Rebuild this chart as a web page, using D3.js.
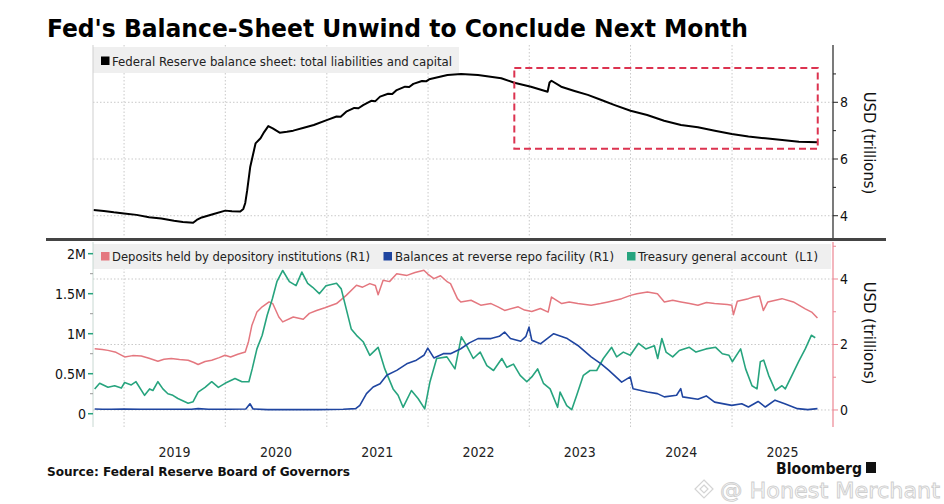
<!DOCTYPE html>
<html><head><meta charset="utf-8">
<script src="https://cdn.jsdelivr.net/npm/d3@7"></script>
<style>
html,body{margin:0;padding:0;background:#fff;}
svg{display:block;}
text{font-family:"DejaVu Sans Condensed","DejaVu Sans",sans-serif;}
</style></head><body>
<svg id="chart" width="944" height="504"></svg>
<script>
// ---------- DATA ----------
const bsDates = ["2018-09-13","2018-10-20","2018-11-25","2019-01-01","2019-02-15","2019-04-01","2019-05-15","2019-06-30","2019-08-01","2019-09-07","2019-09-20","2019-10-08","2019-11-20","2020-01-01","2020-01-25","2020-02-24","2020-03-06","2020-03-13","2020-03-20","2020-03-31","2020-04-19","2020-05-07","2020-05-20","2020-06-04","2020-06-20","2020-07-15","2020-08-10","2020-09-02","2020-10-10","2020-11-15","2021-01-03","2021-02-05","2021-02-20","2021-03-12","2021-04-10","2021-04-25","2021-05-12","2021-06-10","2021-06-25","2021-07-12","2021-08-10","2021-08-25","2021-09-10","2021-10-10","2021-10-25","2021-11-09","2021-12-10","2021-12-25","2022-01-05","2022-03-12","2022-04-30","2022-06-30","2022-09-22","2022-11-08","2023-01-07","2023-03-08","2023-03-15","2023-03-22","2023-04-26","2023-06-13","2023-07-31","2023-09-18","2023-11-05","2024-01-01","2024-03-01","2024-05-01","2024-07-01","2024-08-31","2024-10-31","2024-12-31","2025-03-01","2025-05-01","2025-07-01","2025-08-30","2025-11-05"];
const bsValues = [4.20,4.17,4.12,4.08,4.03,3.95,3.90,3.82,3.78,3.75,3.85,3.94,4.06,4.18,4.16,4.15,4.24,4.45,4.90,5.73,6.55,6.73,6.95,7.16,7.08,6.93,6.96,7.00,7.10,7.20,7.38,7.50,7.49,7.67,7.80,7.79,7.90,8.05,8.04,8.20,8.30,8.29,8.43,8.55,8.54,8.65,8.75,8.74,8.81,8.96,9.00,8.96,8.85,8.69,8.55,8.37,8.70,8.76,8.55,8.40,8.26,8.08,7.90,7.70,7.55,7.35,7.20,7.12,7.00,6.88,6.79,6.73,6.67,6.61,6.59];

const depDates = ["2018-09-17","2018-10-15","2018-11-04","2018-12-03","2019-01-03","2019-02-01","2019-03-04","2019-04-01","2019-05-03","2019-05-25","2019-06-20","2019-07-20","2019-08-20","2019-09-10","2019-09-25","2019-10-20","2019-11-13","2019-12-10","2019-12-31","2020-01-20","2020-02-15","2020-03-13","2020-03-25","2020-04-06","2020-04-24","2020-05-13","2020-06-07","2020-06-20","2020-07-12","2020-07-26","2020-09-02","2020-10-08","2020-10-30","2020-11-25","2020-12-25","2021-02-05","2021-03-12","2021-04-18","2021-05-10","2021-06-05","2021-06-25","2021-07-05","2021-07-23","2021-08-15","2021-09-10","2021-10-17","2021-11-15","2021-12-17","2021-12-31","2022-01-22","2022-02-15","2022-03-12","2022-03-23","2022-04-17","2022-04-29","2022-06-05","2022-07-10","2022-08-16","2022-09-10","2022-10-04","2022-11-22","2022-12-15","2023-01-10","2023-02-10","2023-03-10","2023-03-22","2023-04-28","2023-05-25","2023-06-25","2023-08-12","2023-09-15","2023-10-12","2023-11-30","2024-01-01","2024-01-24","2024-03-02","2024-04-07","2024-05-02","2024-06-01","2024-07-01","2024-08-01","2024-08-31","2024-10-01","2024-10-30","2024-12-15","2024-12-31","2025-01-06","2025-01-20","2025-03-01","2025-03-20","2025-04-10","2025-04-24","2025-05-10","2025-06-30","2025-08-10","2025-09-22","2025-10-15","2025-11-05"];
const depValues = [1.87,1.85,1.82,1.76,1.62,1.66,1.65,1.58,1.49,1.55,1.57,1.54,1.52,1.45,1.39,1.48,1.52,1.60,1.67,1.62,1.70,1.77,2.10,2.59,2.99,3.15,3.30,3.25,2.84,2.69,2.84,2.77,2.95,3.04,3.12,3.25,3.50,3.81,3.75,3.86,3.80,3.52,3.96,3.92,4.16,4.11,4.20,4.27,4.15,4.01,4.10,3.91,3.86,3.40,3.30,3.35,3.20,3.25,3.15,3.04,3.15,3.05,3.01,3.10,2.99,3.45,3.25,3.30,3.25,3.20,3.25,3.30,3.40,3.50,3.55,3.60,3.55,3.30,3.35,3.30,3.25,3.20,3.28,3.25,3.22,3.20,2.91,3.32,3.40,3.45,3.48,3.04,3.30,3.40,3.30,3.09,2.99,2.81];

const rrpDates = ["2018-09-17","2018-10-15","2018-11-15","2018-12-31","2019-03-01","2019-06-01","2019-09-01","2019-09-25","2019-11-01","2020-01-15","2020-03-15","2020-03-30","2020-04-10","2020-06-01","2020-09-01","2020-12-01","2021-03-01","2021-04-15","2021-04-30","2021-05-24","2021-06-17","2021-07-12","2021-08-05","2021-09-10","2021-10-16","2021-11-20","2021-12-17","2021-12-31","2022-01-22","2022-02-25","2022-03-23","2022-04-29","2022-05-30","2022-06-30","2022-08-16","2022-09-15","2022-10-04","2022-10-25","2022-12-01","2022-12-20","2022-12-31","2023-01-10","2023-02-10","2023-03-30","2023-05-18","2023-06-25","2023-08-12","2023-09-17","2023-10-15","2023-11-30","2023-12-31","2024-01-10","2024-03-02","2024-04-07","2024-05-02","2024-06-15","2024-06-30","2024-07-07","2024-08-31","2024-09-30","2024-10-30","2024-12-31","2025-02-05","2025-03-01","2025-04-05","2025-05-01","2025-06-05","2025-07-10","2025-08-25","2025-10-01","2025-11-05"];
const rrpValues = [0.03,0.02,0.02,0.03,0.02,0.02,0.02,0.04,0.02,0.02,0.03,0.19,0.03,0.01,0.01,0.01,0.02,0.04,0.14,0.50,0.70,0.80,1.06,1.21,1.41,1.52,1.67,1.89,1.59,1.72,1.72,1.87,2.05,2.18,2.18,2.25,2.38,2.18,2.10,2.25,2.53,2.13,2.02,2.33,2.18,1.97,1.62,1.41,1.21,0.85,1.01,0.65,0.55,0.50,0.40,0.45,0.65,0.40,0.33,0.43,0.24,0.14,0.19,0.09,0.26,0.09,0.30,0.19,0.04,0.01,0.04];

const tgaDates = ["2018-09-17","2018-10-05","2018-11-04","2018-11-28","2018-12-22","2019-01-03","2019-01-27","2019-02-13","2019-03-16","2019-04-03","2019-04-15","2019-05-03","2019-05-21","2019-06-08","2019-06-26","2019-07-14","2019-08-20","2019-09-07","2019-09-25","2019-10-20","2019-11-13","2019-12-07","2019-12-31","2020-02-05","2020-03-01","2020-03-26","2020-04-07","2020-04-24","2020-05-13","2020-05-31","2020-06-19","2020-07-05","2020-07-26","2020-08-19","2020-09-12","2020-10-03","2020-10-24","2020-11-11","2020-12-05","2020-12-29","2021-02-05","2021-02-22","2021-03-12","2021-03-30","2021-04-18","2021-05-12","2021-06-05","2021-07-05","2021-07-29","2021-08-28","2021-09-15","2021-10-03","2021-11-02","2021-11-26","2021-12-20","2022-01-08","2022-02-01","2022-03-10","2022-04-08","2022-05-01","2022-05-20","2022-06-13","2022-07-08","2022-08-01","2022-08-25","2022-09-24","2022-10-12","2022-11-05","2022-11-29","2022-12-23","2023-01-10","2023-01-31","2023-02-21","2023-03-17","2023-04-13","2023-04-22","2023-05-16","2023-06-03","2023-06-21","2023-07-15","2023-08-08","2023-09-01","2023-09-25","2023-10-25","2023-11-12","2023-12-06","2023-12-31","2024-01-30","2024-02-25","2024-03-27","2024-04-08","2024-04-23","2024-05-08","2024-06-01","2024-06-25","2024-07-31","2024-08-24","2024-09-29","2024-11-03","2024-11-27","2024-12-21","2025-01-02","2025-02-01","2025-02-19","2025-03-14","2025-04-01","2025-04-13","2025-04-25","2025-05-13","2025-06-06","2025-06-30","2025-07-12","2025-08-05","2025-08-29","2025-09-22","2025-10-14","2025-10-28"];
const tgaValues = [0.31,0.38,0.33,0.35,0.32,0.39,0.36,0.40,0.23,0.31,0.29,0.40,0.31,0.25,0.23,0.19,0.13,0.15,0.27,0.33,0.40,0.33,0.38,0.44,0.40,0.40,0.56,0.81,0.98,1.23,1.44,1.65,1.79,1.65,1.60,1.77,1.63,1.58,1.50,1.60,1.63,1.56,1.31,1.06,0.98,0.90,0.73,0.83,0.56,0.31,0.23,0.08,0.29,0.19,0.06,0.40,0.69,0.71,0.56,0.96,0.85,0.69,0.77,0.60,0.54,0.69,0.58,0.62,0.48,0.40,0.46,0.56,0.38,0.31,0.08,0.27,0.10,0.05,0.23,0.48,0.54,0.54,0.69,0.83,0.71,0.77,0.73,0.88,0.81,0.85,0.69,0.94,0.77,0.71,0.79,0.83,0.77,0.81,0.83,0.75,0.73,0.65,0.81,0.56,0.35,0.31,0.65,0.67,0.48,0.29,0.35,0.31,0.48,0.65,0.81,0.98,0.95];

const yearTicks = ["2019","2020","2021","2022","2023","2024","2025"];
const topTicks = [4,6,8];
const topMinorTicks = [5,7,9];
const rightTicks = [0,2,4];
const rightMinorTicks = [1,3,5];
const leftTicks = [0,0.5,1,1.5,2];
const leftTickLabels = ["0","0.5M","1M","1.5M","2M"];
const leftMinorTicks = [0.25,0.75,1.25,1.75];
const boxDates = ["2022-11-08","2025-11-06"];
const boxValues = [6.36,9.21];

const titleText = "Fed's Balance-Sheet Unwind to Conclude Next Month";
const topLegend = "Federal Reserve balance sheet: total liabilities and capital";
const botLegend = ["Deposits held by depository institutions (R1)","Balances at reverse repo facility (R1)","Treasury general account  (L1)"];
const colors = {bs:"#000000", dep:"#e4777f", rrp:"#1f45a0", tga:"#27a47e"};

// ---------- SCALES ----------
const parse = d3.timeParse("%Y-%m-%d");
const svg = d3.select("#chart");
const X0 = 93, X1 = 833;
const x = d3.scaleTime().domain([parse("2018-09-11"), parse("2025-12-31")]).range([X0, X1]);
const yTop = d3.scaleLinear().domain([3.25, 10.02]).range([237, 45]);
const yR = d3.scaleLinear().domain([-0.52, 5.13]).range([427, 242]);
const yL = d3.scaleLinear().domain([-0.166, 2.146]).range([427, 242]);

// ---------- TITLE ----------
svg.append("text").attr("x",47).attr("y",37).attr("font-size",25).attr("font-weight","bold")
  .attr("textLength",701).attr("lengthAdjust","spacingAndGlyphs").attr("fill","#000").text(titleText);

// ---------- GRIDS ----------
const grid = svg.append("g").attr("stroke","#c9c9c9").attr("stroke-dasharray","1.5,2").attr("stroke-width",1);
yearTicks.forEach(y => {
  const xx = x(parse(y+"-01-01"));
  grid.append("line").attr("x1",xx).attr("x2",xx).attr("y1",45).attr("y2",237);
  grid.append("line").attr("x1",xx).attr("x2",xx).attr("y1",268).attr("y2",427);
});
topTicks.forEach(v => grid.append("line").attr("x1",X0).attr("x2",X1).attr("y1",yTop(v)).attr("y2",yTop(v)));
rightTicks.forEach(v => grid.append("line").attr("x1",X0).attr("x2",X1).attr("y1",yR(v)).attr("y2",yR(v)));

// ---------- TOP PANEL ----------
svg.append("rect").attr("x",93).attr("y",47).attr("width",366).attr("height",26).attr("fill","#efefef");
svg.append("rect").attr("x",101).attr("y",56.5).attr("width",8.5).attr("height",8.5).attr("fill","#000");
svg.append("text").attr("x",112).attr("y",65.5).attr("font-size",12.5).attr("fill","#222")
  .attr("textLength",340).attr("lengthAdjust","spacingAndGlyphs").text(topLegend);

const bsData = bsDates.map((d,i)=>({d:parse(d), v:bsValues[i]}));
svg.append("path").datum(bsData)
  .attr("d", d3.line().x(p=>x(p.d)).y(p=>yTop(p.v)))
  .attr("fill","none").attr("stroke",colors.bs).attr("stroke-width",2).attr("stroke-linejoin","round");

// red dashed box
svg.append("rect")
  .attr("x", x(parse(boxDates[0]))).attr("y", yTop(boxValues[1]))
  .attr("width", x(parse(boxDates[1])) - x(parse(boxDates[0])))
  .attr("height", yTop(boxValues[0]) - yTop(boxValues[1]))
  .attr("fill","none").attr("stroke","#dc3350").attr("stroke-width",2).attr("stroke-dasharray","7,4");

// left light axis line top
svg.append("line").attr("x1",X0).attr("x2",X0).attr("y1",45).attr("y2",238).attr("stroke","#cfcfcf");

// right axis top
const topAxis = svg.append("g").attr("transform",`translate(${X1},0)`);
topAxis.append("line").attr("x1",0).attr("x2",0).attr("y1",45).attr("y2",238).attr("stroke","#222").attr("stroke-width",1.2);
topTicks.forEach(v=>{
  topAxis.append("line").attr("x1",0).attr("x2",5).attr("y1",yTop(v)).attr("y2",yTop(v)).attr("stroke","#222");
  topAxis.append("text").attr("x",7).attr("y",yTop(v)+5).attr("font-size",14).attr("fill","#111").text(v);
});
topMinorTicks.forEach(v=>topAxis.append("line").attr("x1",0).attr("x2",3).attr("y1",yTop(v)).attr("y2",yTop(v)).attr("stroke","#222"));
svg.append("text").attr("transform","translate(864,143) rotate(90)").attr("text-anchor","middle")
  .attr("font-size",16.5).attr("fill","#111").text("USD (trillions)");

// ---------- DIVIDER ----------
svg.append("rect").attr("x",46).attr("y",238).attr("width",840).attr("height",3).attr("fill","#444");

// ---------- BOTTOM PANEL ----------
svg.append("rect").attr("x",93).attr("y",244).attr("width",738).attr("height",25).attr("fill","#efefef");
const legItems = [
  {sx:101, tx:112, tw:258, c:colors.dep, t:botLegend[0]},
  {sx:383.5, tx:395, tw:219, c:colors.rrp, t:botLegend[1]},
  {sx:627, tx:638, tw:180, c:colors.tga, t:botLegend[2]}
];
legItems.forEach(l=>{
  svg.append("rect").attr("x",l.sx).attr("y",252).attr("width",8.5).attr("height",8.5).attr("fill",l.c);
  svg.append("text").attr("x",l.tx).attr("y",261).attr("font-size",12.5).attr("fill","#222")
    .attr("textLength",l.tw).attr("lengthAdjust","spacingAndGlyphs").attr("xml:space","preserve").text(l.t);
});

const mk = (ds,vs)=>ds.map((d,i)=>({d:parse(d), v:vs[i]}));
const lineR = d3.line().x(p=>x(p.d)).y(p=>yR(p.v));
const lineL = d3.line().x(p=>x(p.d)).y(p=>yL(p.v));
svg.append("path").datum(mk(depDates,depValues)).attr("d",lineR).attr("fill","none").attr("stroke",colors.dep).attr("stroke-width",1.5).attr("stroke-linejoin","round");
svg.append("path").datum(mk(tgaDates,tgaValues)).attr("d",lineL).attr("fill","none").attr("stroke",colors.tga).attr("stroke-width",1.6).attr("stroke-linejoin","round");
svg.append("path").datum(mk(rrpDates,rrpValues)).attr("d",lineR).attr("fill","none").attr("stroke",colors.rrp).attr("stroke-width",1.6).attr("stroke-linejoin","round");

// left axis (L1)
const la = svg.append("g");
la.append("line").attr("x1",X0).attr("x2",X0).attr("y1",242).attr("y2",427).attr("stroke","#c8d8d2");
leftTicks.forEach((v,i)=>{
  la.append("line").attr("x1",X0-5).attr("x2",X0).attr("y1",yL(v)).attr("y2",yL(v)).attr("stroke",colors.tga).attr("stroke-width",1.5);
  la.append("text").attr("x",X0-7).attr("y",yL(v)+5).attr("text-anchor","end").attr("font-size",14).attr("fill","#111").text(leftTickLabels[i]);
});
leftMinorTicks.forEach(v=>la.append("line").attr("x1",X0-3).attr("x2",X0).attr("y1",yL(v)).attr("y2",yL(v)).attr("stroke","#999"));

// right axis (R1)
const ra = svg.append("g").attr("transform",`translate(${X1},0)`);
ra.append("line").attr("x1",0).attr("x2",0).attr("y1",242).attr("y2",427).attr("stroke","#ec8592").attr("stroke-width",1.2);
rightTicks.forEach(v=>{
  ra.append("line").attr("x1",0).attr("x2",5).attr("y1",yR(v)).attr("y2",yR(v)).attr("stroke","#ec8592");
  ra.append("text").attr("x",7).attr("y",yR(v)+5).attr("font-size",14).attr("fill","#111").text(v);
});
rightMinorTicks.forEach(v=>ra.append("line").attr("x1",0).attr("x2",3).attr("y1",yR(v)).attr("y2",yR(v)).attr("stroke","#ec8592"));
svg.append("text").attr("transform","translate(864,333) rotate(90)").attr("text-anchor","middle")
  .attr("font-size",16.5).attr("fill","#111").text("USD (trillions)");

// x axis year labels (mid-year)
yearTicks.forEach(y=>{
  svg.append("text").attr("x",x(parse(y+"-07-02"))).attr("y",457).attr("text-anchor","middle")
    .attr("font-size",14).attr("fill","#222").text(y);
});

// ---------- FOOTER ----------
svg.append("text").attr("x",47).attr("y",476).attr("font-size",13).attr("font-weight","bold").attr("fill","#111")
  .attr("textLength",303).attr("lengthAdjust","spacingAndGlyphs").text("Source: Federal Reserve Board of Governors");
// watermark (placed just below the Bloomberg mark)
svg.append("text").attr("x",720).attr("y",498).attr("font-size",21).attr("fill","#fbfbfb").attr("stroke","#cfcfcf").attr("stroke-width",0.8)
  .attr("font-family","DejaVu Sans").attr("textLength",220).attr("lengthAdjust","spacingAndGlyphs").text("@ Honest Merchant");
svg.append("path").attr("d","M704,480 l9,9 l-9,9 l-9,-9 z M704,485 l4,4 l-4,4 l-4,-4 z")
  .attr("fill","none").attr("stroke","#d4d4d4").attr("stroke-width",1.2);
svg.append("text").attr("x",776).attr("y",474).attr("font-size",15).attr("font-weight","bold").attr("fill","#111")
  .attr("textLength",86).attr("lengthAdjust","spacingAndGlyphs").text("Bloomberg");
svg.append("rect").attr("x",866).attr("y",462).attr("width",10).attr("height",11).attr("fill","#111");
</script>
</body></html>
